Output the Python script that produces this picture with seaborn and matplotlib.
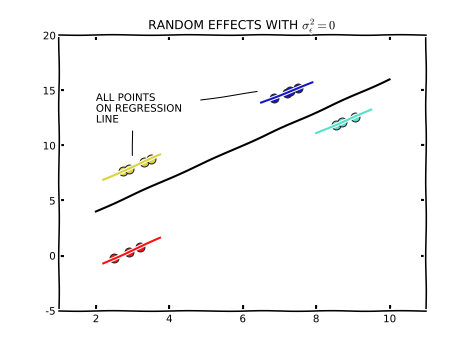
import numpy as np
import pandas as pd
import matplotlib
matplotlib.use("Agg")
import matplotlib.pyplot as plt
import seaborn as sns

# points of each group
red_x = [2.5, 2.9, 3.2]
red_y = [-0.25, 0.3, 0.8]
yellow_x = [2.75, 2.9, 3.3, 3.5]
yellow_y = [7.7, 7.9, 8.5, 8.8]
blue_x = [6.85, 7.2, 7.3, 7.5]
blue_y = [14.35, 14.8, 14.9, 15.2]
cyan_x = [8.55, 8.7, 9.05]
cyan_y = [11.9, 12.1, 12.6]

# x span of each group's own regression line
red_span = [2.2, 3.75]
yellow_span = [2.2, 3.75]
blue_span = [6.5, 7.9]
cyan_span = [8.0, 9.5]

# overall (fixed effect) line
fixed_x = [2, 10]
fixed_y = [4, 16]

x_ticks = [2, 4, 6, 8, 10]
y_ticks = [-5, 0, 5, 10, 15, 20]

groups = [
    ("red", red_x, red_y, red_span, "#ff1010"),
    ("yellow", yellow_x, yellow_y, yellow_span, "#dcd23a"),
    ("blue", blue_x, blue_y, blue_span, "#1515c8"),
    ("cyan", cyan_x, cyan_y, cyan_span, "#55e0cc"),
]

plt.xkcd(scale=0.3, length=80, randomness=2)
plt.rcParams['font.family'] = ['DejaVu Sans']
plt.rcParams['mathtext.fontset'] = 'cm'

fig, ax = plt.subplots(figsize=(6.4, 4.8), dpi=74)
fig.subplots_adjust(left=0.125, right=0.9, top=0.9, bottom=0.125)

sns.lineplot(x=fixed_x, y=fixed_y, color="black", lw=2, ax=ax)

for name, gx, gy, span, col in groups:
    pts = pd.DataFrame({"x": gx, "y": gy})
    sns.scatterplot(data=pts, x="x", y="y", color=col, edgecolor="#222222",
                    linewidth=1, s=75, ax=ax, zorder=3)
    slope, icpt = np.polyfit(gx, gy, 1)
    lx = np.array(span)
    sns.lineplot(x=lx, y=icpt + slope * lx, color=col, lw=2, ax=ax, zorder=4)

ax.text(2.0, 11.9, "ALL POINTS\nON REGRESSION\nLINE", fontsize=10,
        va="bottom", ha="left", linespacing=1.1)
ax.annotate("", xy=(3.0, 8.9), xytext=(3.0, 11.5),
            arrowprops=dict(arrowstyle="-", color="black", lw=1))
ax.annotate("", xy=(6.45, 14.9), xytext=(4.8, 14.1),
            arrowprops=dict(arrowstyle="-", color="black", lw=1))

ax.set_xlim(1, 11)
ax.set_ylim(-5, 20)
ax.set_xticks(x_ticks)
ax.set_yticks(y_ticks)
ax.tick_params(direction="in", top=True, right=True, length=5, width=2,
               labelsize=10)
ax.set_xlabel("")
ax.set_ylabel("")
ax.set_title(r"RANDOM EFFECTS WITH $\sigma_\epsilon^2=0$", fontsize=12)

fig.savefig("out.png", dpi=74)
